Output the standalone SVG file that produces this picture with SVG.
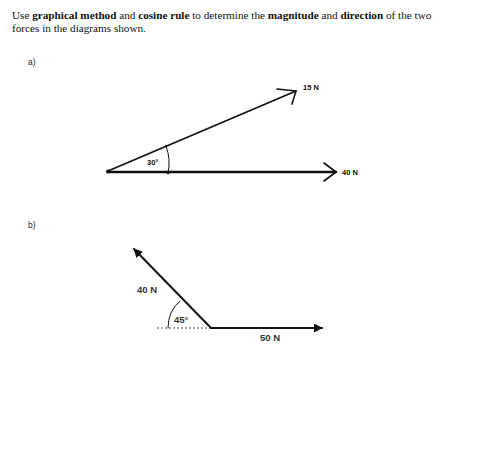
<svg xmlns="http://www.w3.org/2000/svg" width="480" height="453" viewBox="0 0 480 453">
<defs>
<style>
.hdr{font-family:"Liberation Serif",serif;font-size:11.2px;fill:#111}
.hdr .b{font-weight:bold}
.lbl{font-family:"Liberation Sans",Arial,sans-serif;font-size:7.5px;font-weight:bold;fill:#111}
.lblb{font-family:"Liberation Sans",Arial,sans-serif;font-size:9.5px;fill:#333;font-weight:bold}
.part{font-family:"Liberation Sans",Arial,sans-serif;font-size:8.5px;fill:#222}
.ln{stroke:#111;fill:none;stroke-linecap:round;stroke-linejoin:round}
</style>
<marker id="fa" viewBox="0 0 10 10" refX="9" refY="5" markerWidth="4.5" markerHeight="4.5" orient="auto" markerUnits="strokeWidth">
<path d="M0,0 L10,5 L0,10 z" fill="#111"/>
</marker>
</defs>
<rect width="480" height="453" fill="#fff"/>
<text class="hdr" x="12" y="19">Use <tspan class="b">graphical method</tspan> and <tspan class="b">cosine rule</tspan> to determine the <tspan class="b">magnitude</tspan> and <tspan class="b">direction</tspan> of the two</text>
<text class="hdr" x="12" y="32">forces in the diagrams shown.</text>
<text class="part" x="28" y="65">a)</text>
<text class="part" x="28" y="228">b)</text>
<g id="connectors">
<g id="a-15N">
<path class="ln" d="M108,171 L296,91" stroke-width="1.8"/>
<path class="ln" d="M277,89 L296,91 L292,104" stroke-width="1.6"/>
</g>
<g id="a-40N">
<path class="ln" d="M108,172 L336,172" stroke-width="2.6"/>
<path class="ln" d="M324,163 L336,172 L324,181" stroke-width="1.6"/>
</g>
<g id="b-40N">
<path class="ln" d="M211,328 L134,249" stroke-width="2" marker-end="url(#fa)"/>
</g>
<g id="b-50N">
<path class="ln" d="M211,328 L322,328" stroke-width="2" marker-end="url(#fa)"/>
<path d="M157,328 L210,328" stroke="#555" stroke-width="1.2" stroke-dasharray="2,2" fill="none"/>
</g>
</g>
<g id="a-angle">
<circle cx="108" cy="171.5" r="2" fill="#111"/>
<path class="ln" d="M166,146 Q171,159 168,173" stroke-width="1"/>
<circle cx="168" cy="173" r="1.3" fill="#111"/>
<circle cx="166" cy="146" r="1" fill="#111"/>
<text class="lbl" x="147" y="165" font-weight="normal">30°</text>
</g>
<g id="a-labels">
<text class="lbl" x="303" y="90">15 N</text>
<text class="lbl" x="342" y="175">40 N</text>
</g>
<g id="b-angle">
<path class="ln" d="M168,328 Q168,311 180,301" stroke="#333" stroke-width="1"/>
<text class="lblb" x="174" y="323" font-size="8.5">45°</text>
</g>
<g id="b-labels">
<text class="lblb" x="137" y="293">40 N</text>
<text class="lblb" x="260" y="341">50 N</text>
</g>
</svg>
